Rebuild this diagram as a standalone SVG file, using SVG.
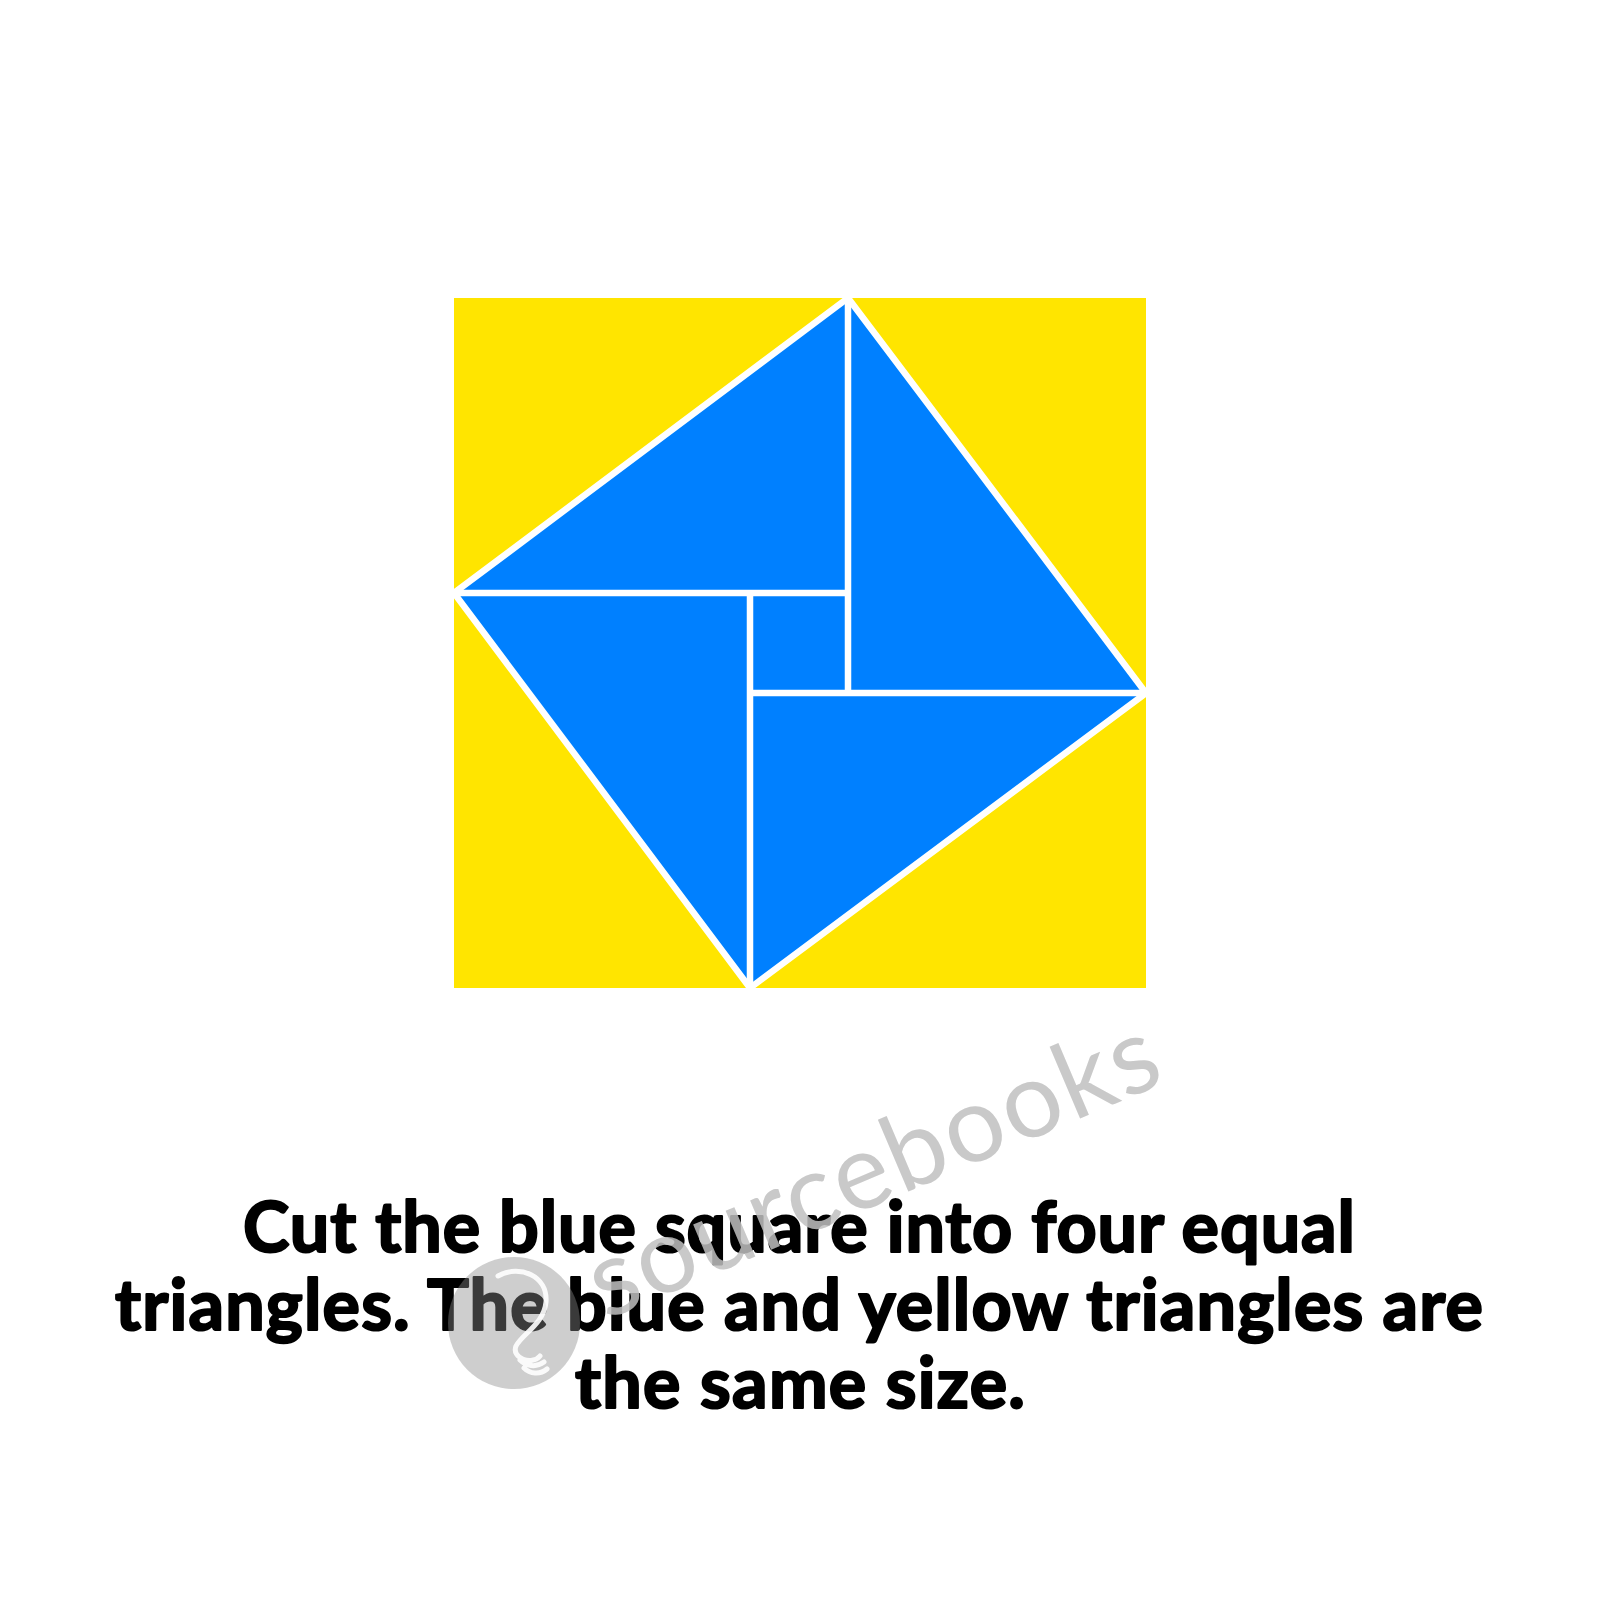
<svg xmlns="http://www.w3.org/2000/svg" width="1600" height="1600" viewBox="0 0 1600 1600">
<style>
.cut{stroke:#FFFFFF;stroke-width:6.5;fill:none;stroke-linecap:butt}
.caption{font-family:Lato,"Open Sans","Liberation Sans",sans-serif;font-weight:700;font-size:70px;fill:#000000;stroke:#000000;stroke-width:2.2;stroke-linejoin:round}
.wm{font-family:Lato,"Open Sans",sans-serif;font-weight:400;font-size:106px;fill:#c0c0c0;opacity:0.85}
</style>
<rect width="1600" height="1600" fill="#FFFFFF"/>
<g id="yellow-square">
<rect x="454" y="298" width="692" height="690" fill="#FFE500"/>
</g>
<g id="blue-square">
<polygon points="848,298 1146,693 750,988 454,593" fill="#0080FF"/>
</g>
<g id="cut-lines">
<polygon class="cut" points="848,298 1146,693 750,988 454,593" stroke-linejoin="miter"/>
<line class="cut" x1="454" y1="593" x2="848" y2="593"/>
<line class="cut" x1="848" y1="298" x2="848" y2="693"/>
<line class="cut" x1="750" y1="693" x2="1146" y2="693"/>
<line class="cut" x1="750" y1="593" x2="750" y2="988"/>
</g>
<g id="caption">
<text class="caption" x="243" y="1252" textLength="1112" lengthAdjust="spacing">Cut the blue square into four equal</text>
<text class="caption" x="115" y="1330" textLength="1368" lengthAdjust="spacing">triangles. The blue and yellow triangles are</text>
<text class="caption" x="575" y="1408" textLength="450" lengthAdjust="spacing">the same size.</text>
</g>
<g id="watermark">
<circle cx="514" cy="1323" r="66" fill="#8a8a8a" opacity="0.42"/>
<path d="M498,1276 C520,1264 548,1276 546,1302 C544,1324 522,1334 516,1346 C511,1358 532,1366 540,1356 M520,1360 C526,1366 536,1368 544,1362 M524,1368 C530,1374 540,1375 547,1369" fill="none" stroke="#FFFFFF" stroke-width="5" stroke-linecap="round" opacity="0.9"/>
<g transform="translate(876,1176) rotate(-23)">
<text class="wm" x="0" y="27" text-anchor="middle" textLength="610" lengthAdjust="spacing">sourcebooks</text>
</g>
</g>
</svg>
